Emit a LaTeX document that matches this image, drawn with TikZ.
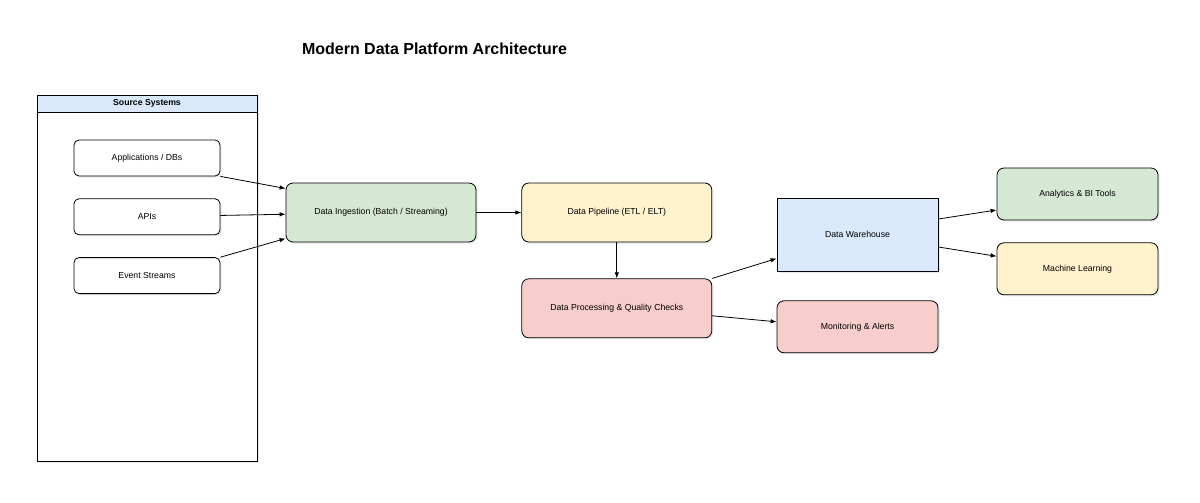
\documentclass[tikz,border=0pt]{standalone}
\usepackage{fontspec}
\setmainfont{Liberation Sans}
\usepackage{xcolor}
\usepackage{tikz}
\usetikzlibrary{positioning, arrows.meta, shadows}

\definecolor{laneblue}{HTML}{DAE8FC}
\definecolor{stagegreen}{HTML}{D5E8D4}
\definecolor{stageyellow}{HTML}{FFF2CC}
\definecolor{stagered}{HTML}{F8CECC}

\begin{document}
\begin{tikzpicture}[x=1pt, y=-1pt, >={Latex[length=6pt, width=4.5pt]}, node distance=0mm,
  lift/.style={drop shadow={opacity=0.18, shadow xshift=1.5pt, shadow yshift=-1.5pt}},
  box/.style={draw, thick, rounded corners=5pt, lift, fill=white, minimum width=146pt, minimum height=36pt, align=center, font=\fontsize{8.7}{10}\selectfont},
  stage/.style={box, rounded corners=7pt, minimum width=190pt, minimum height=59pt},
  sink/.style={box, rounded corners=7pt, minimum width=161pt, minimum height=52pt}]

  \useasboundingbox (0,0) rectangle (1200,503);

  \node[font=\fontsize{16}{19}\selectfont\bfseries] (title) at (434.5,49) {Modern Data Platform Architecture};

  \node[draw, thick, lift, fill=white, minimum width=220pt, minimum height=366pt] (src) at (147,278) {};
  \node[draw, thick, fill=laneblue, minimum width=220pt, minimum height=17pt, anchor=north, font=\fontsize{8.7}{10}\selectfont\bfseries] (srchead) at (src.north) {Source Systems};

  \node[box] (apps) at (147,158) {Applications / DBs};

  \node[box, below=22pt of apps] (apis) {APIs};

  \node[box, below=22pt of apis] (streams) {Event Streams};

  \node[stage, fill=stagegreen] (ingest) at (381,212.5) {Data Ingestion (Batch / Streaming)};

  \node[stage, fill=stageyellow, right=45pt of ingest] (pipe) {Data Pipeline (ETL / ELT)};

  \node[stage, fill=stagered, below=36pt of pipe] (proc) {Data Processing \& Quality Checks};

  \node[sink, rounded corners=0pt, fill=laneblue, minimum height=73pt] (dwh) at (857.5,234.5) {Data Warehouse};

  \node[sink, fill=stagered, below=29pt of dwh] (mon) {Monitoring \& Alerts};

  \node[sink, fill=stagegreen] (bi) at (1077.5,194) {Analytics \& BI Tools};

  \node[sink, fill=stageyellow, below=22pt of bi] (ml) {Machine Learning};

  \draw[->, thick] (apps.south east) -- ([yshift=24pt]ingest.west);
  \draw[->, thick] (apis) -- (ingest);
  \draw[->, thick] (streams.north east) -- ([yshift=-26pt]ingest.west);
  \draw[->, thick] (ingest) -- (pipe);
  \draw[->, thick] (pipe) -- (proc);
  \draw[->, thick] (proc.north east) -- ([yshift=-24pt]dwh.west);
  \draw[->, thick] ([yshift=-7.5pt]proc.east) -- ([yshift=5pt]mon.west);
  \draw[->, thick] ([yshift=15.5pt]dwh.east) -- ([yshift=-16pt]bi.west);
  \draw[->, thick] ([yshift=-12.5pt]dwh.east) -- ([yshift=12.5pt]ml.west);
\end{tikzpicture}
\end{document}
